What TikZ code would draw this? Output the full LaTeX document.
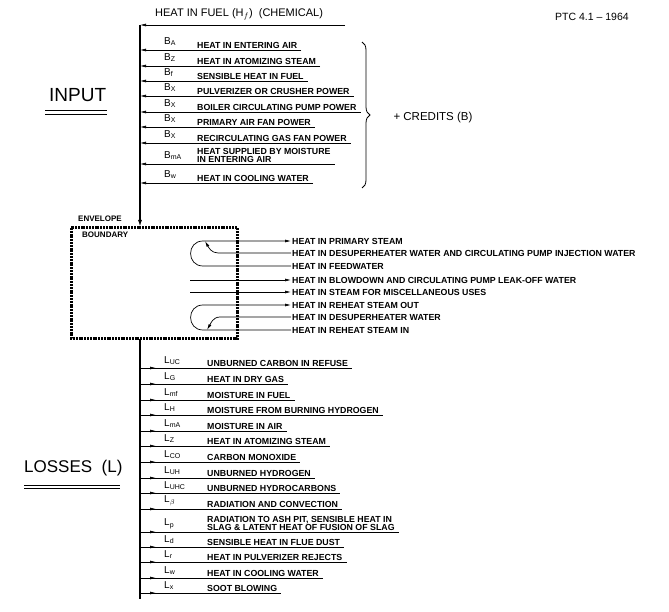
\documentclass[tikz,border=0pt]{standalone}
\usepackage{fontspec}
\setmainfont{Liberation Sans}
\usetikzlibrary{arrows.meta,decorations.pathreplacing}

\tikzset{
  rowtext/.style={font=\bfseries\fontsize{8.8}{8.2}\selectfont, anchor=south west, inner sep=1pt, align=left},
  subtag/.style={font=\fontsize{10}{11}\selectfont, anchor=south west, inner sep=0pt},
  flow/.style={line width=0.7pt, -{Latex[length=6pt,width=3pt]}},
  plain/.style={line width=0.7pt},
  boundary/.style={line width=3pt, dash pattern=on 2pt off 0.8pt}
}

\begin{document}
\begin{tikzpicture}[x=1pt,y=-1pt]
  \useasboundingbox (0,0) rectangle (669,612);
  \coordinate (trunk) at (140,25);
  \coordinate (boxtop) at (140,227);
  \coordinate (boxbot) at (140,339);
  \coordinate (trunkend) at (140,599);

  % fuel input and trunk
  \node[font=\fontsize{11}{12}\selectfont, anchor=south west, inner sep=0pt] (fuel) at (155,20) {HEAT IN FUEL (H$_f$)\ \ (CHEMICAL)};
  \node[font=\fontsize{10.5}{12}\selectfont, anchor=south west, inner sep=0pt] (ptc) at (555,21) {PTC 4.1 -- 1964};
  \coordinate (fuelstart) at (345,25);
  \draw[flow] (fuelstart) -- (trunk);
  \draw[line width=1.6pt, -{Latex[length=7pt,width=4pt]}] (trunk) -- (boxtop);
  \draw[line width=1.6pt] (boxbot) -- (trunkend);

  % input credits
  \foreach \y/\s/\t/\n in {51/A/HEAT IN ENTERING AIR/a, 67/Z/HEAT IN ATOMIZING STEAM/b,
      82/f/SENSIBLE HEAT IN FUEL/c, 97/X/PULVERIZER OR CRUSHER POWER/d,
      113/X/BOILER CIRCULATING PUMP POWER/e, 128/X/PRIMARY AIR FAN POWER/f,
      144/X/RECIRCULATING GAS FAN POWER/g,
      165/{mA}/{HEAT SUPPLIED BY MOISTURE\\IN ENTERING AIR}/h,
      184/w/HEAT IN COOLING WATER/i} {
    \node[subtag] (bs\n) at (164,\y-5) {B$_{\mathrm{\s}}$};
    \node[rowtext] (bt\n) at (196,\y-1) {\t};
    \draw[flow] ([xshift=3pt]bt\n.south east) -- (bt\n.south east -| trunk);
  }
  \draw[decorate, decoration={brace, amplitude=8pt}, line width=0.8pt] (362,42) -- (362,188);
  \node[font=\fontsize{11.5}{12}\selectfont, anchor=west] (credits) at (390,118) {+ CREDITS (B)};
  \node[font=\fontsize{19}{20}\selectfont, anchor=south west, inner sep=0pt] (input) at (49,102) {INPUT};
  \draw[line width=1pt] (45,111) -- (107,111) (45,114.5) -- (107,114.5);

  % envelope boundary
  \draw[boundary] (71,228) rectangle (237,338);
  \node[font=\bfseries\fontsize{8}{8}\selectfont, anchor=south west, inner sep=0pt] (env) at (78,222) {ENVELOPE};
  \node[font=\bfseries\fontsize{8}{8}\selectfont, anchor=south west, inner sep=0pt] (bnd) at (82,238) {BOUNDARY};

  % steam side
  \foreach \y/\t/\n in {241/HEAT IN PRIMARY STEAM/pa, 253/HEAT IN DESUPERHEATER WATER AND CIRCULATING PUMP INJECTION WATER/pb,
      266/HEAT IN FEEDWATER/pc, 280/HEAT IN BLOWDOWN AND CIRCULATING PUMP LEAK-OFF WATER/pd,
      292/HEAT IN STEAM FOR MISCELLANEOUS USES/pe, 305/HEAT IN REHEAT STEAM OUT/pf,
      317/HEAT IN DESUPERHEATER WATER/pg, 330/HEAT IN REHEAT STEAM IN/ph} {
    \node[rowtext, anchor=west] (\n) at (291,\y) {\t};
  }
  \draw[flow] (pc.west) -- (203,266) to[out=180,in=180,looseness=1.7] (203,241) -- (pa.west);
  \draw[flow] (pb.west) -- (218,253) to[out=180,in=-60] (205,241);
  \draw[flow] (190,280) -- (pd.west);
  \draw[flow] (190,292) -- (pe.west);
  \draw[flow] (ph.west) -- (203,330) to[out=180,in=180,looseness=1.7] (203,305) -- (pf.west);
  \draw[flow] (pg.west) -- (220,317) to[out=180,in=60] (207,330);

  % losses
  \foreach \y/\s/\t/\n in {369/UC/UNBURNED CARBON IN REFUSE/a, 385/G/HEAT IN DRY GAS/b,
      401/mf/MOISTURE IN FUEL/c, 416/H/MOISTURE FROM BURNING HYDROGEN/d,
      432/mA/MOISTURE IN AIR/e, 447/Z/HEAT IN ATOMIZING STEAM/f,
      463/CO/CARBON MONOXIDE/g, 479/UH/UNBURNED HYDROGEN/h,
      494/UHC/UNBURNED HYDROCARBONS/i, 510/\beta/RADIATION AND CONVECTION/j,
      533/p/{RADIATION TO ASH PIT, SENSIBLE HEAT IN\\SLAG \& LATENT HEAT OF FUSION OF SLAG}/k,
      548/d/SENSIBLE HEAT IN FLUE DUST/l, 563/r/HEAT IN PULVERIZER REJECTS/m,
      579/w/HEAT IN COOLING WATER/n, 594/x/SOOT BLOWING/o} {
    \node[subtag] (ls\n) at (164,\y-4) {L$_{\mathrm{\s}}$};
    \node[rowtext] (lt\n) at (206,\y-1) {\t};
    \draw[plain] (lt\n.south east -| trunk) -- ([xshift=3pt]lt\n.south east);
    \draw[flow] (lt\n.south east -| trunk) -- ++(16,0);
  }
  \node[font=\fontsize{17}{18}\selectfont, anchor=south west, inner sep=0pt] (losses) at (24,476) {LOSSES\ \ (L)};
  \draw[line width=1pt] (24,485) -- (120,485) (24,488.5) -- (120,488.5);
\end{tikzpicture}
\end{document}
